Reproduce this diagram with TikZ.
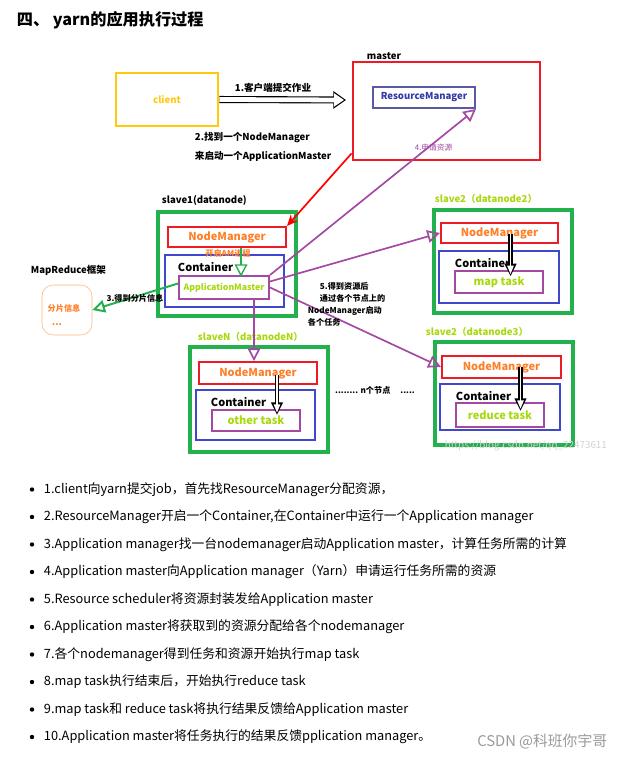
\documentclass[tikz,border=0pt]{standalone}
\usepackage{fontspec}
\setmainfont{Noto Sans CJK SC}
\usetikzlibrary{arrows.meta}
\definecolor{gr}{HTML}{22B14C}
\definecolor{nmred}{HTML}{ED1C24}
\definecolor{ctblue}{HTML}{3F48CC}
\definecolor{pu}{HTML}{A349A4}
\definecolor{org}{HTML}{FF7F27}
\definecolor{lime}{HTML}{A8D80E}
\definecolor{yel}{HTML}{FFC90E}
\tikzset{
  small/.style={font=\fontsize{6.8}{8}\selectfont\bfseries},
  tiny/.style={font=\fontsize{5.8}{7}\selectfont\bfseries},
  slave/.style={draw=gr, line width=2.2pt},
  nm/.style={draw=nmred, line width=1.4pt, text=org, font=\fontsize{7.8}{9}\selectfont\bfseries},
  ct/.style={draw=ctblue, line width=1.4pt},
  task/.style={draw=pu, line width=1.4pt, text=lime, font=\fontsize{7.8}{9}\selectfont\bfseries},
  ctlbl/.style={anchor=west, font=\fontsize{7.8}{9}\selectfont\bfseries},
  hollow/.style={-{Triangle[open,length=9pt,width=9pt]}},
  fat/.style={-{Triangle[length=9pt,width=8pt]}, line width=3.2pt, black,
    postaction={draw=white, line width=1.2pt, -{Triangle[length=6pt,width=4.5pt]}, shorten >=1.6pt}},
  wide/.style={-{Triangle[length=9pt,width=12pt]}, line width=5pt, black,
    postaction={draw=white, line width=3.4pt, -{Triangle[length=7pt,width=9pt]}, shorten >=1.4pt}},
  item/.style={anchor=west, font=\fontsize{9.1}{11}\selectfont}
}
\begin{document}
\begin{tikzpicture}[x=0.025cm, y=-0.025cm]
\useasboundingbox (0,0) rectangle (626,761);
\node[anchor=west, font=\fontsize{11.5}{13}\selectfont\bfseries] (title) at (12,20) {四、 yarn的应用执行过程};

% client and master
\node[draw=yel, line width=2pt, minimum width=2.55cm, minimum height=1.325cm, text=yel, small] (client) at (167,99.5) {client};
\node[draw=nmred, line width=2pt, minimum width=4.675cm, minimum height=2.45cm] (master) at (446.5,111) {};
\node[small, anchor=west] (masterlbl) at (362,56) {master};
\node[draw=gray!70!blue, line width=1.4pt, minimum width=2.55cm, minimum height=0.525cm, text=ctblue!80!black, small] (rm) at (424,97.5) {ResourceManager};
\coordinate (rmin) at (346,100);
\draw[wide] (client.east) -- (rmin);
\node[small, anchor=west] (l1) at (230,88) {1.客户端提交作业};
\node[small, anchor=west] (l2a) at (190,138) {2.找到一个NodeManager};
\node[small, anchor=west] (l2b) at (190,156) {来启动一个ApplicationMaster};
\node[text=pu, anchor=west, font=\fontsize{5.5}{7}\selectfont] (l4) at (410,148) {4.申请资源};

% slave1
\node[slave, minimum width=3.45cm, minimum height=2.6cm] (s1) at (227,264) {};
\node[small, anchor=west] (s1lbl) at (157,200) {slave1(datanode)};
\node[nm, minimum width=2.95cm, minimum height=0.5cm, inner sep=0pt] (nm1) at (227,237) {NodeManager\hspace{1.2cm}};
\node[ct, minimum width=2.975cm, minimum height=1.3cm] (c1) at (224.5,281) {};
\node[ctlbl] at (173,267) {Container};
\node[task, minimum width=2.2cm, minimum height=0.575cm, font=\fontsize{6.2}{7}\selectfont\bfseries] (am) at (224,287.5) {ApplicationMaster};
\node[tiny, text=org] (l0) at (228,253) {开启AM进程};
\draw[red, line width=1.2pt, -{Stealth[length=8pt,width=7pt]}] (master.south west) ++(0,-8) -- (nm1.north east);
\draw[gr, line width=1pt, hollow] (nm1.south east) ++(-46,0) -- ++(0,29);

% MapReduce
\node[small, anchor=west] (mrlbl) at (26,270) {MapReduce框架};
\node[draw=org!60, rounded corners=8pt, minimum width=1.25cm, minimum height=1.25cm] (mr) at (67,310) {};
\node[tiny, text=org] at (64,308) {分片信息};
\node[small, text=org] at (57,325) {...};
\draw[gr, line width=1.4pt, hollow] (am.west) ++(0,-4) -- (mr.east);
\node[tiny] (l3) at (135,298) {3.得到分片信息};

% slave2
\node[small, text=lime, anchor=west] at (430,199) {slave2（datanode2）};
\node[slave, minimum width=3.45cm, minimum height=2.575cm] (s2) at (503,261.5) {};
\node[nm, minimum width=2.925cm, minimum height=0.5cm] (nm2) at (499.5,233) {NodeManager\hspace{1cm}};
\node[ct, minimum width=3cm, minimum height=1.3cm] (c2) at (499,277) {};
\node[ctlbl] at (450,263) {Container};
\node[task, minimum width=2.2cm, minimum height=0.55cm] (map) at (499,282) {map task\hspace{0.6cm}};
\draw[fat] (nm2.south) ++(11,-10) -- ++(0,42);

% slave3
\node[small, text=lime, anchor=west] at (421,332) {slave2（datanode3）};
\node[slave, minimum width=3.45cm, minimum height=2.575cm] (s3) at (504,393.5) {};
\node[nm, minimum width=2.975cm, minimum height=0.55cm] (nm3) at (501.5,367) {NodeManager\hspace{1cm}};
\node[ct, minimum width=3cm, minimum height=1.15cm] (c3) at (500,407) {};
\node[ctlbl] at (451,396) {Container};
\node[task, minimum width=2.2cm, minimum height=0.6cm] (red) at (500,415) {reduce task\hspace{0.4cm}};
\draw[fat] (nm3.south) ++(19,-12) -- ++(0,44);

% slaveN
\node[small, text=lime, anchor=west] at (193,337) {slaveN（datanodeN）};
\node[slave, minimum width=3.45cm, minimum height=2.625cm] (sn) at (259,399.5) {};
\node[nm, minimum width=2.95cm, minimum height=0.55cm] (nmn) at (258,373) {NodeManager\hspace{1.2cm}};
\node[ct, minimum width=2.975cm, minimum height=1.25cm] (cn) at (255.5,415) {};
\node[ctlbl] at (206,402) {Container};
\node[task, minimum width=2.2cm, minimum height=0.525cm] (other) at (256,420.5) {other task\hspace{0.5cm}};
\draw[fat] (nmn.south) ++(19,-10) -- ++(0,40);
\node[tiny] (dots) at (375,390) {........ n个节点 \quad .....};

% AM requests / launches
\draw[pu, line width=1.2pt, hollow] (am.north east) -- (rm.south east);
\draw[pu, line width=1.2pt, hollow] (am.east) ++(0,-6) -- (nm2.west);
\draw[pu, line width=1.2pt, hollow] (am.east) -- (nm3.west);
\draw[pu, line width=1.2pt, hollow] (am.south) ++(30,0) -- (nmn.north -| 254,0);
\node[tiny, anchor=west, align=left] (l5) at (303,304) {\hspace{0.3cm}5.得到资源后\\[1.5pt]\hspace{0.3cm}通过各个节点上的\\[1.5pt]NodeManager启动\\[1.5pt]各个任务};
\node[text=gray!35, anchor=west, font=\fontsize{7}{8}\selectfont] at (440,446) {https://blog.csdn.net/qq\_22473611};

% list
\foreach \t [count=\i] in {
  {1.client向yarn提交job，首先找ResourceManager分配资源，},
  {2.ResourceManager开启一个Container,在Container中运行一个Application manager},
  {3.Application manager找一台nodemanager启动Application master，计算任务所需的计算},
  {4.Application master向Application manager（Yarn）申请运行任务所需的资源},
  {5.Resource scheduler将资源封装发给Application master},
  {6.Application master将获取到的资源分配给各个nodemanager},
  {7.各个nodemanager得到任务和资源开始执行map task},
  {8.map task执行结束后，开始执行reduce task},
  {9.map task和 reduce task将执行结果反馈给Application master},
  {10.Application master将任务执行的结果反馈pplication manager。}}
{
  \fill (32,462+27.5*\i) circle (2.2);
  \node[item] (it\i) at (39,462+27.5*\i) {\t};
}
\node[anchor=east, text=gray!80, font=\fontsize{10.5}{12}\selectfont] (csdn) at (612,742) {CSDN @科班你宇哥};
\end{tikzpicture}
\end{document}
